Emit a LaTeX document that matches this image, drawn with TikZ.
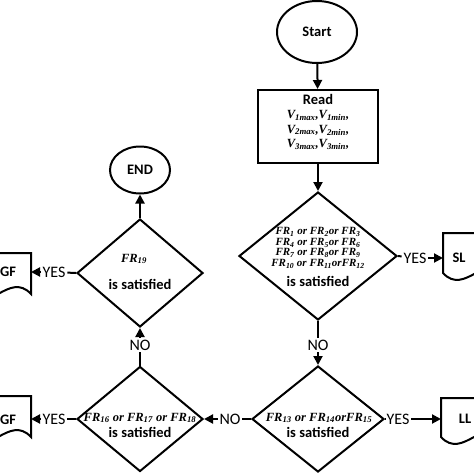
\documentclass[tikz,border=0pt]{standalone}
\usepackage{fontspec}
\setmainfont{Carlito}
\newfontfamily\mfont{Liberation Serif}
\usetikzlibrary{shapes.geometric,arrows.meta}
\newcommand\FR[1]{FR\textsubscript{#1}}
\newcommand\VV[1]{V\textsubscript{#1}}
\begin{document}
\begin{tikzpicture}[x=1pt,y=-1pt,
  line width=2pt,
  conn/.style={-{Triangle[length=9pt,width=9pt]}},
  box/.style={draw, rectangle, minimum width=120pt, minimum height=73pt, inner sep=0pt},
  oval/.style={draw, ellipse, inner sep=0pt},
  dia/.style={draw, diamond, inner sep=0pt},
  lbl/.style={font=\fontsize{16}{16}\selectfont, inner sep=1pt},
  ttl/.style={font=\fontsize{14.5}{16}\selectfont\bfseries, inner sep=0pt},
  frt/.style={font=\fontsize{11}{10.5}\selectfont\mfont\bfseries\itshape, align=center, inner sep=0pt},
  frb/.style={font=\fontsize{12.5}{13}\selectfont\mfont\bfseries\itshape, align=center, inner sep=0pt},
  doc/.style={draw, line width=2pt}
]
\useasboundingbox (0,0) rectangle (474,474);
\clip (0,0) rectangle (474,474);

% terminals and process box
\node[oval, minimum width=80pt, minimum height=62pt, ttl] (start) at (317,32) {Start};
\node[box] (read) at (318,126.5) {};
\node[ttl] (readt) at (318,99) {Read};
\node[font=\fontsize{12.5}{14.5}\selectfont\mfont\bfseries\itshape, align=center, inner sep=0pt] (vals) at (318,130)
  {\VV{1\textit{max}},\VV{1\textit{min}},\\\VV{2\textit{max}},\VV{2\textit{min}},\\\VV{3\textit{max}},\VV{3\textit{min}},};
\node[oval, minimum width=60pt, minimum height=47pt, ttl] (end) at (140,170) {END};

% decisions
\node[dia, minimum width=158pt, minimum height=128pt] (d1) at (318,256) {};
\node[frt] (d1t) at (318,248) {\FR{1} or \FR{2}or \FR{3}\\\FR{4} or \FR{5}or \FR{6}\\\FR{7} or \FR{8}or \FR{9}\\\FR{10} or \FR{11}or\FR{12}};
\node[ttl] (d1s) at (318,281) {is satisfied};

\node[dia, minimum width=132pt, minimum height=106pt] (d2) at (318,419) {};
\node[frb] (d2t) at (319,418) {\FR{13} or \FR{14}or\FR{15}};
\node[ttl] (d2s) at (318,432) {is satisfied};

\node[dia, minimum width=126pt, minimum height=105pt] (d3) at (140,419) {};
\node[frb] (d3t) at (140,418) {\FR{16} or \FR{17} or \FR{18}};
\node[ttl] (d3s) at (140,432) {is satisfied};

\node[dia, minimum width=126pt, minimum height=108pt] (d4) at (140,273) {};
\node[frb] (d4t) at (134,259) {\FR{19}};
\node[ttl] (d4s) at (140,284) {is satisfied};

% documents
\draw[doc] (443,273) -- (443,233) -- (520,233) -- (520,273) -- (509,273) .. controls (487,249) and (465,297) .. cycle;
\node[ttl] (sl) at (459,258) {SL};
\coordinate (slW) at (443,258);
\draw[doc] (441,437) -- (441,398) -- (520,398) -- (520,437) -- (507,437) .. controls (485,413) and (463,461) .. cycle;
\node[ttl] (ll) at (465,419) {LL};
\coordinate (llW) at (441,419);
\draw[doc] (31,294) -- (31,253) -- (-40,253) -- (-40,294) -- (-35,294) .. controls (-13,318) and (9,270) .. cycle;
\node[ttl] (gf1) at (8,272) {GF};
\coordinate (gf1E) at (31,272);
\draw[doc] (31,437) -- (31,396) -- (-40,396) -- (-40,437) -- (-35,437) .. controls (-13,461) and (9,413) .. cycle;
\node[ttl] (gf2) at (8,420) {GF};
\coordinate (gf2E) at (31,419);

% labels
\node[lbl] (y1) at (415,258) {YES};
\node[lbl] (n1) at (318,345) {NO};
\node[lbl] (y2) at (398,419) {YES};
\node[lbl] (n2) at (230,419) {NO};
\node[lbl] (y3) at (54,419) {YES};
\node[lbl] (n3) at (140,345) {NO};
\node[lbl] (y4) at (54,272) {YES};

% connectors
\draw[conn] (start) -- (read);
\draw[conn] (read) -- (d1.north);
\draw (d1.east) -- (y1);
\draw[conn] (y1) -- (slW);
\draw (d1.south) -- (n1);
\draw[conn] (n1) -- (d2.north);
\draw (d2.east) -- (y2);
\draw[conn] (y2) -- (llW);
\draw (d2.west) -- (n2);
\draw[conn] (n2) -- (d3.east);
\draw (d3.west) -- (y3);
\draw[conn] (y3) -- (gf2E);
\draw (d3.north) -- (n3);
\draw[conn] (n3) -- (d4.south);
\draw[conn] (d4.north) -- (end);
\draw (d4.west) -- (y4);
\draw[conn] (y4) -- (gf1E);
\end{tikzpicture}
\end{document}
